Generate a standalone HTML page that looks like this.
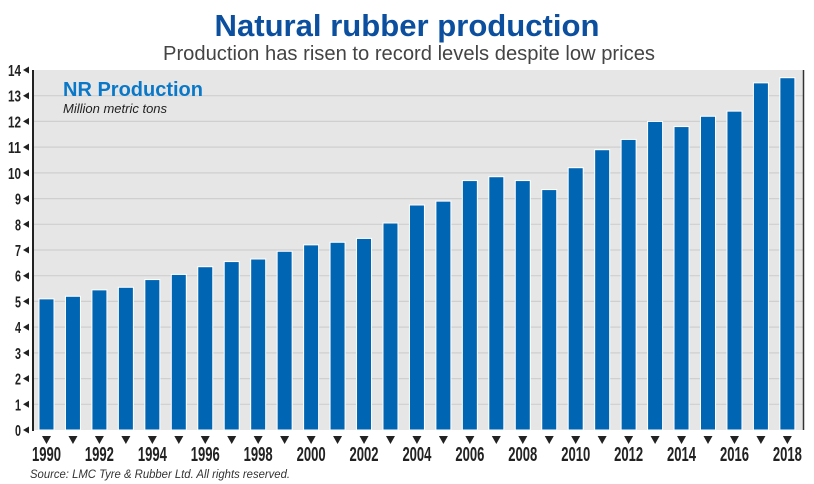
<!DOCTYPE html>
<html><head><meta charset="utf-8"><style>
html,body{margin:0;padding:0;background:#fff;}
svg{display:block;font-family:"Liberation Sans",sans-serif;}
</style></head><body>
<svg width="814" height="484" viewBox="0 0 814 484" xmlns="http://www.w3.org/2000/svg">
<text x="407" y="36" text-anchor="middle" font-size="31" font-weight="bold" fill="#0b4f9e" textLength="385" lengthAdjust="spacingAndGlyphs">Natural rubber production</text>
<text x="409" y="60" text-anchor="middle" font-size="20" fill="#444" textLength="492" lengthAdjust="spacingAndGlyphs">Production has risen to record levels despite low prices</text>
<rect x="34" y="70" width="769" height="360" fill="#e6e6e6"/>
<g stroke="#cfcfcf" stroke-width="1.2">
<line x1="34" x2="803" y1="404.3" y2="404.3"/><line x1="34" x2="803" y1="378.6" y2="378.6"/><line x1="34" x2="803" y1="352.9" y2="352.9"/><line x1="34" x2="803" y1="327.1" y2="327.1"/><line x1="34" x2="803" y1="301.4" y2="301.4"/><line x1="34" x2="803" y1="275.7" y2="275.7"/><line x1="34" x2="803" y1="250" y2="250"/><line x1="34" x2="803" y1="224.3" y2="224.3"/><line x1="34" x2="803" y1="198.6" y2="198.6"/><line x1="34" x2="803" y1="172.9" y2="172.9"/><line x1="34" x2="803" y1="147.1" y2="147.1"/><line x1="34" x2="803" y1="121.4" y2="121.4"/><line x1="34" x2="803" y1="95.7" y2="95.7"/>
</g>
<g id="bars" fill="#0066b3" stroke="#fff" stroke-width="1"></g>
<line x1="33" y1="70" x2="33" y2="431" stroke="#222" stroke-width="2"/>
<line x1="803.5" y1="70" x2="803.5" y2="430" stroke="#333" stroke-width="1.5"/>
<g id="yl" font-weight="bold" font-size="16" fill="#222"></g>
<g id="xl" font-weight="bold" font-size="20" fill="#222"></g>
<text x="63" y="96" font-size="20" font-weight="bold" fill="#0a78c8">NR Production</text>
<text x="63" y="113" font-size="13" font-style="italic" fill="#222">Million metric tons</text>
<text x="30" y="478" font-size="12" font-style="italic" fill="#333" textLength="260" lengthAdjust="spacingAndGlyphs">Source: LMC Tyre &amp; Rubber Ltd. All rights reserved.</text>
</svg>
<script>
var d=[5.1,5.2,5.45,5.55,5.85,6.05,6.35,6.55,6.65,6.95,7.2,7.3,7.45,8.05,8.75,8.9,9.7,9.85,9.7,9.35,10.2,10.9,11.3,12.0,11.8,12.2,12.4,13.5,13.7];
var ns="http://www.w3.org/2000/svg",b=document.getElementById('bars'),yl=document.getElementById('yl'),xl=document.getElementById('xl');
function el(t,a,p,txt){var e=document.createElementNS(ns,t);for(var k in a)e.setAttribute(k,a[k]);if(txt!=null)e.textContent=txt;p.appendChild(e);return e;}
var s=360/14;
d.forEach(function(v,i){var cx=46.5+i*26.46,h=v*s;el('rect',{x:cx-7.5,y:430-h,width:15,height:h},b);
el('path',{d:'M'+(cx-4.5)+' 436 L'+(cx+4.5)+' 436 L'+cx+' 444 Z',fill:'#222'},xl);
if(i%2==0)el('text',{x:cx-14.5,y:461,textLength:29,lengthAdjust:'spacingAndGlyphs'},xl,String(1990+i));});
for(var k=0;k<=14;k++){var y=430-k*s;var w=k>=10?13:6;el('text',{x:21-w,y:y+6,textLength:w,lengthAdjust:'spacingAndGlyphs'},yl,String(k));
el('path',{d:'M23 '+y+' L29 '+(y-3.5)+' L29 '+(y+3.5)+' Z',fill:'#222'},yl);}
</script>
</body></html>
